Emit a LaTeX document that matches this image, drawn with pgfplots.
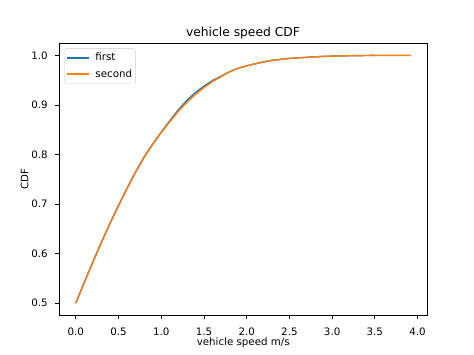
\documentclass[border=0pt]{standalone}
\usepackage{fontspec}
\setmainfont{DejaVu Sans}
\usepackage{pgfplots}
\pgfplotsset{compat=1.18}
\definecolor{mplblue}{HTML}{1F77B4}
\definecolor{mplorange}{HTML}{FF7F0E}
\begin{document}
\begin{tikzpicture}
\useasboundingbox (0,0) rectangle (474bp,355bp);
\begin{axis}[
  at={(59bp,39.5bp)}, anchor=south west,
  scale only axis, width=368.5bp, height=272.5bp,
  xmin=-0.196, xmax=4.116, ymin=0.475, ymax=1.025,
  xtick={0,0.5,...,4.0}, ytick={0.5,0.6,...,1.0},
  xtick pos=left, ytick pos=left,
  tick align=outside, major tick length=3.6bp,
  tick style={black, line width=0.8bp},
  axis line style={black, line width=0.8bp},
  /pgf/number format/assume math mode=true,
  /pgf/number format/.cd, fixed, fixed zerofill, precision=1, /pgfplots/.cd,
  ticklabel style={font=\fontsize{10.3}{12}\selectfont},
  xticklabel style={anchor=north, inner sep=0pt, yshift=-8.6bp},
  yticklabel style={anchor=east, inner sep=0pt, xshift=-7.6bp},
  xlabel={\fontsize{10.3}{12}\selectfont vehicle speed m/s},
  ylabel={\fontsize{10.3}{12}\selectfont CDF},
  xlabel style={at={(axis description cs:0.5,-0.1)}, anchor=center, inner sep=0pt},
  ylabel style={at={(axis description cs:-0.093,0.5)}, anchor=center, inner sep=0pt},
  legend cell align=left,
  legend style={at={(rel axis cs:0.0144,0.980)}, anchor=north west,
    draw=black!20, rounded corners=2bp, fill=white, fill opacity=0.8, text opacity=1,
    inner xsep=2bp, inner ysep=3bp, row sep=4bp,
    font=\fontsize{10.3}{12}\selectfont,
    nodes={inner sep=1.5bp}},
  legend image code/.code={\draw[#1, line width=1.5bp] (0bp,0bp) -- (21.6bp,0bp); \path (26bp,0bp);},
]
\addplot[mplblue, line width=1.4bp] coordinates {
(0.0,0.500) (0.1,0.542) (0.2,0.583) (0.3,0.623) (0.4,0.661) (0.5,0.697)
(0.6,0.732) (0.7,0.765) (0.8,0.795) (0.9,0.821) (1.0,0.845) (1.1,0.868)
(1.2,0.890) (1.3,0.909) (1.4,0.925) (1.5,0.938) (1.6,0.949) (1.7,0.958)
(1.8,0.967) (1.9,0.974) (2.0,0.979) (2.1,0.983) (2.2,0.987) (2.3,0.990)
(2.4,0.992) (2.5,0.994) (2.6,0.995) (2.7,0.996) (2.8,0.997) (2.9,0.998)
(3.0,0.9985) (3.2,0.9993) (3.5,1.000)
};
\addlegendentry{first}
\addplot[mplorange, line width=1.4bp] coordinates {
(0.0,0.500) (0.1,0.541) (0.2,0.582) (0.3,0.622) (0.4,0.660) (0.5,0.696)
(0.6,0.731) (0.7,0.764) (0.8,0.794) (0.9,0.820) (1.0,0.844) (1.1,0.866)
(1.2,0.887) (1.3,0.905) (1.4,0.921) (1.5,0.935) (1.6,0.947) (1.7,0.957)
(1.8,0.967) (1.9,0.974) (2.0,0.979) (2.1,0.983) (2.2,0.987) (2.3,0.990)
(2.4,0.992) (2.5,0.994) (2.6,0.995) (2.7,0.996) (2.8,0.997) (2.9,0.998)
(3.0,0.9985) (3.2,0.9993) (3.5,1.000) (3.92,1.000)
};
\addlegendentry{second}
\end{axis}
\node[font=\fontsize{12.35}{14}\selectfont, anchor=base, inner sep=0pt] at (243bp,318.2bp) {vehicle speed CDF};
\end{tikzpicture}
\end{document}
